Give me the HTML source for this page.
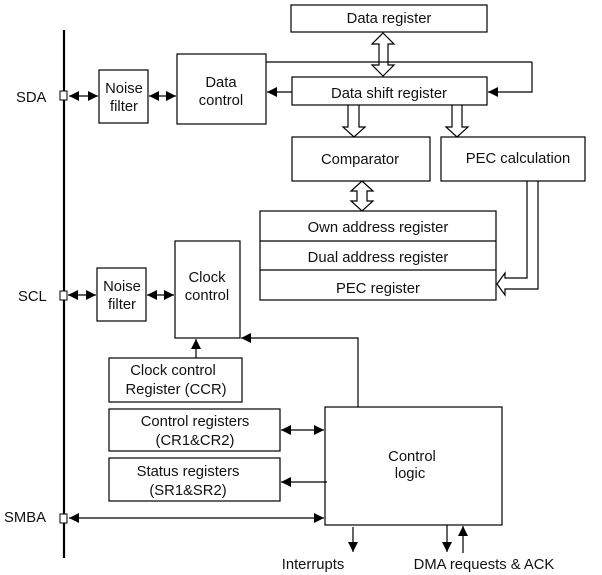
<!DOCTYPE html>
<html><head><meta charset="utf-8"><style>
body{margin:0;background:#fff}
svg{display:block}
text{font-family:"Liberation Sans",Arial,sans-serif;font-size:14.8px;fill:#111}
</style></head><body>
<svg width="602" height="575" viewBox="0 0 602 575" xmlns="http://www.w3.org/2000/svg">
<defs>
<marker id="ah" viewBox="0 0 10 10" refX="10" refY="5" markerWidth="10" markerHeight="10" markerUnits="userSpaceOnUse" orient="auto-start-reverse"><path d="M0,0 L10,5 L0,10 z" fill="#000"/></marker>
</defs>
<g fill="none" stroke="#000" stroke-width="1.2">
<line x1="64" y1="30" x2="64" y2="558" stroke-width="2.2"/>
<rect x="99" y="70" width="49" height="53"/>
<rect x="177" y="54" width="89" height="70"/>
<rect x="291" y="5" width="196" height="27"/>
<rect x="292" y="77" width="195" height="28"/>
<rect x="292" y="137" width="138" height="44"/>
<rect x="441" y="137" width="144" height="44"/>
<rect x="260" y="211" width="236" height="89"/>
<line x1="260" y1="241" x2="496" y2="241"/>
<line x1="260" y1="270" x2="496" y2="270"/>
<rect x="97" y="268" width="49" height="53"/>
<rect x="175" y="241" width="65" height="97"/>
<rect x="109" y="358" width="133" height="44"/>
<rect x="109" y="409" width="171" height="42"/>
<rect x="109" y="458" width="171" height="43"/>
<rect x="325" y="407" width="177" height="118"/>
<path d="M383,33 L394,44 L388,44 L388,65 L394,65 L383,76 L372,65 L379,65 L379,44 L372,44 Z"/>
<path d="M348,105 L348,127 L343,127 L354,137 L365,127 L359,127 L359,105"/>
<path d="M452,105 L452,127 L446,127 L457,137 L468,127 L462,127 L462,105"/>
<path d="M362,181 L373,191 L367,191 L367,201 L373,201 L362,211 L351,201 L357,201 L357,191 L351,191 Z"/>
<path d="M527,181 L527,278 L505,278 L505,273 L497,284 L505,295 L505,289 L538,289 L538,181"/>
<line x1="266" y1="62" x2="532" y2="62"/>
<polyline points="532,62 532,92 488,92" marker-end="url(#ah)"/>
<line x1="292" y1="92" x2="267" y2="92" marker-end="url(#ah)"/>
<line x1="69" y1="96" x2="98" y2="96" marker-start="url(#ah)" marker-end="url(#ah)"/>
<line x1="149" y1="96" x2="176" y2="96" marker-start="url(#ah)" marker-end="url(#ah)"/>
<line x1="68" y1="295" x2="96" y2="295" marker-start="url(#ah)" marker-end="url(#ah)"/>
<line x1="147" y1="295" x2="174" y2="295" marker-start="url(#ah)" marker-end="url(#ah)"/>
<polyline points="358,407 358,338 241,338" marker-end="url(#ah)"/>
<line x1="196" y1="358" x2="196" y2="339" marker-end="url(#ah)"/>
<line x1="281" y1="430" x2="324" y2="430" marker-start="url(#ah)" marker-end="url(#ah)"/>
<line x1="327" y1="482" x2="281" y2="482" marker-end="url(#ah)"/>
<line x1="69" y1="518" x2="324" y2="518" marker-start="url(#ah)" marker-end="url(#ah)"/>
<line x1="353" y1="527" x2="353" y2="552" marker-end="url(#ah)"/>
<line x1="447" y1="525" x2="447" y2="552" marker-end="url(#ah)"/>
<line x1="463" y1="553" x2="463" y2="526" marker-end="url(#ah)"/>
</g>
<g fill="#fff" stroke="#000" stroke-width="1">
<rect x="60" y="91" width="7" height="9"/>
<rect x="60" y="291" width="7" height="9"/>
<rect x="60" y="514" width="7" height="9"/>
</g>
<g text-anchor="middle">
<text x="389" y="23">Data register</text>
<text x="389" y="98">Data shift register</text>
<text x="360" y="164">Comparator</text>
<text x="518" y="163">PEC calculation</text>
<text x="378" y="232">Own address register</text>
<text x="378" y="262">Dual address register</text>
<text x="378" y="293">PEC register</text>
<text x="124" y="93">Noise</text>
<text x="124" y="111">filter</text>
<text x="221" y="87">Data</text>
<text x="221" y="105">control</text>
<text x="122" y="291">Noise</text>
<text x="122" y="309">filter</text>
<text x="207" y="282">Clock</text>
<text x="207" y="300">control</text>
<text x="173" y="375">Clock control</text>
<text x="176" y="394">Register (CCR)</text>
<text x="195" y="426">Control registers</text>
<text x="195" y="445">(CR1&amp;CR2)</text>
<text x="188" y="476">Status registers</text>
<text x="188" y="495">(SR1&amp;SR2)</text>
<text x="412" y="461">Control</text>
<text x="410" y="478">logic</text>
<text x="313" y="569">Interrupts</text>
<text x="484" y="569">DMA requests &amp; ACK</text>
</g>
<text x="16" y="102">SDA</text>
<text x="18" y="301">SCL</text>
<text x="4" y="522">SMBA</text>
</svg>
</body></html>
